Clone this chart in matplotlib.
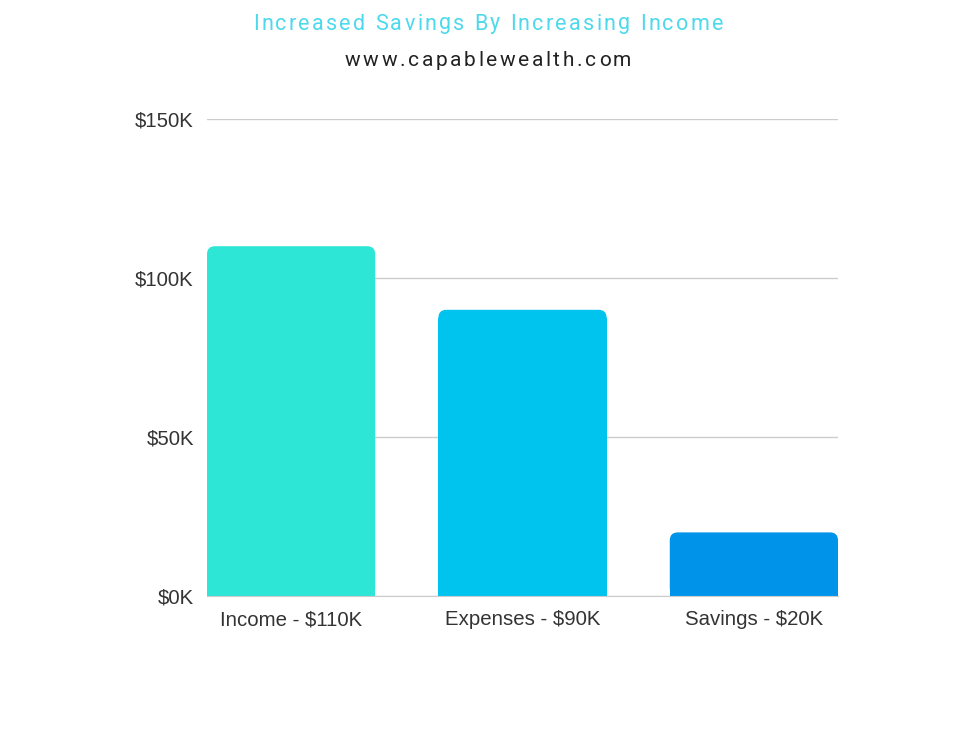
import matplotlib
matplotlib.use("Agg")
import matplotlib.pyplot as plt
from matplotlib.patches import FancyBboxPatch
from matplotlib.ticker import FuncFormatter

categories = ["Income - $110K", "Expenses - $90K", "Savings - $20K"]
values = [110000, 90000, 20000]
colors = ["#2EE6D6", "#00C3EE", "#0093EA"]
yticks = [0, 50000, 100000, 150000]
title = "Increased Savings By Increasing Income"
subtitle = "www.capablewealth.com"

W, H = 974, 731
fig = plt.figure(figsize=(W / 100, H / 100), dpi=100)
fig.patch.set_facecolor("white")
ax = fig.add_axes([207 / W, 1 - 596 / H, (838 - 207) / W, (596 - 119) / H])

width = 0.727
x = list(range(len(categories)))
bars = ax.bar(x, values, width=width, color=colors, zorder=3)
ax.set_xlim(-width / 2, len(categories) - 1 + width / 2)
ax.set_ylim(0, 150000)

# rounded tops
fig.canvas.draw()
renderer = fig.canvas.get_renderer()
px_per_x = ax.transData.transform((1, 0))[0] - ax.transData.transform((0, 0))[0]
px_per_y = ax.transData.transform((0, 1))[1] - ax.transData.transform((0, 0))[1]
r_px = 8
rx = r_px / px_per_x
ry = r_px / px_per_y
for b, c in zip(bars, colors):
    x0, w, h = b.get_x(), b.get_width(), b.get_height()
    b.set_height(h - ry)
    p = FancyBboxPatch((x0, 0), w, h,
                       boxstyle=f"round,pad=0,rounding_size={rx}",
                       mutation_aspect=ry / rx, facecolor=c, edgecolor="none",
                       zorder=3)
    ax.add_patch(p)

ax.set_yticks(yticks)
ax.yaxis.set_major_formatter(FuncFormatter(lambda v, p: f"${int(v/1000)}K"))
ax.set_xticks(x)
ax.set_xticklabels(categories)
for s in ["top", "right", "left"]:
    ax.spines[s].set_visible(False)
ax.spines["bottom"].set_color("#cccccc")
ax.spines["bottom"].set_zorder(4)
ax.grid(axis="y", color="#cccccc", linewidth=1, zorder=0)
ax.tick_params(axis="both", length=0, labelsize=14.7, labelcolor="#333333")
ax.tick_params(axis="y", pad=9.5)
ax.tick_params(axis="x", pad=10.2)
for lab in ax.get_xticklabels() + ax.get_yticklabels():
    lab.set_family("Liberation Sans")


def spaced_text(s, cx_px, cy_px, spacing, **kw):
    """Draw string s centred at (cx_px, cy_px) with extra letter spacing (px)."""
    def w_of(t):
        if not t:
            return 0.0
        tmp = fig.text(0, 0, t.replace(" ", "\u00a0"), **kw)
        wpx = tmp.get_window_extent(renderer).width
        tmp.remove()
        return wpx
    total = w_of(s) + spacing * (len(s) - 1)
    x0 = cx_px - total / 2
    for i, ch in enumerate(s):
        if ch == " ":
            continue
        xi = x0 + w_of(s[:i]) + spacing * i
        fig.text(xi / W, 1 - cy_px / H, ch, ha="left", va="center", **kw)


spaced_text(title, W / 2 + 1, 24, 2.3, color="#4DD9EC", fontsize=15.5, family="Roboto")
spaced_text(subtitle, W / 2 + 1, 60, 2.6, color="#222222", fontsize=15, family="Roboto")

fig.savefig("out.png", dpi=100, facecolor="white")
